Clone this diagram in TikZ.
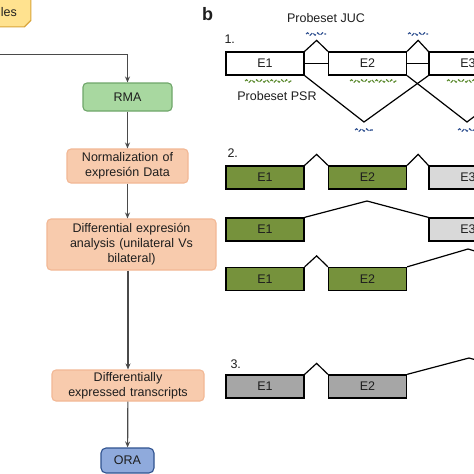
\documentclass[tikz,border=0pt]{standalone}
\usepackage{fontspec}
\setmainfont{Liberation Sans}
\usetikzlibrary{arrows.meta,calc,positioning,shapes.misc,decorations.pathmorphing}
\definecolor{txt}{HTML}{1E1E1E}
\definecolor{conn}{HTML}{4A4A4A}
\definecolor{notefill}{HTML}{FFE28F}
\definecolor{noteline}{HTML}{D9A53A}
\definecolor{rmafill}{HTML}{A8D8A0}
\definecolor{rmaline}{HTML}{6FA66A}
\definecolor{peachfill}{HTML}{F8CBAD}
\definecolor{peachline}{HTML}{F2B895}
\definecolor{orafill}{HTML}{8FAADC}
\definecolor{oraline}{HTML}{2F528F}
\definecolor{exgreen}{HTML}{76923C}
\definecolor{exlight}{HTML}{D9D9D9}
\definecolor{exdark}{HTML}{A6A6A6}
\definecolor{jucblue}{HTML}{2E4F8F}
\definecolor{psrgreen}{HTML}{5B8A2E}

\begin{document}
\begin{tikzpicture}[x=1pt, y=-1pt, >={Stealth[length=6pt,width=5pt]},
		font=\fontsize{12.5}{15}\selectfont, every node/.append style={text=txt},
		notebox/.style={chamfered rectangle, chamfered rectangle corners=south east,
			chamfered rectangle xsep=3pt, fill=notefill, draw=noteline, line width=1.1pt},
		flowbox/.style={draw, rounded corners=4pt, line width=1.1pt, inner sep=0pt, align=center},
		peach/.style={flowbox, fill=peachfill, draw=peachline},
		flow/.style={->, draw=conn, line width=1.2pt},
		exon/.style={draw=black, line width=1.3pt, minimum width=78pt, minimum height=23pt, inner sep=0pt},
		intron/.style={draw=black, line width=1.2pt},
		juc/.style={draw=jucblue, line width=1.1pt, decorate,
			decoration={snake, amplitude=1.2pt, segment length=5pt}, dash pattern=on 3.5pt off 1.5pt},
		psr/.style={juc, draw=psrgreen}]
		\useasboundingbox (0,0) rectangle (474,474);
		\fill[white] (0,0) rectangle (474,474);
		\clip (0,0) rectangle (474,474);
		% panel a: workflow
		\node[notebox, anchor=south east, text width=50pt, align=right, minimum height=30pt, inner xsep=11pt] (cel) at (28,24) {les};
		\coordinate (src) at (-5,54.5);
		\node[flowbox, fill=rmafill, draw=rmaline, text width=89pt, minimum height=28pt] (rma) at (127.5,97) {RMA};
		\node[peach, text width=121pt, minimum height=34pt] (norm) at (127.5,166) {Normalization of\\expresión Data};
		\node[peach, text width=169pt, minimum height=51pt] (diff) at (131.5,244.5) {Differential expresión\\analysis (unilateral Vs\\bilateral)};
		\node[peach, text width=152pt, minimum height=31pt] (det) at (128,385.5) {Differentially\\expressed transcripts};
		\node[flowbox, fill=orafill, draw=oraline, rounded corners=5pt, text width=53pt, minimum height=25pt] (ora) at (127.5,460.5) {ORA};
		\draw[flow] (src) -| (rma.north);
		\draw[flow] (rma) -- (norm);
		\draw[flow] (norm) -- (norm |- diff.north);
		\draw[flow] (diff.south -| det.north) -- (det);
		\draw[flow] (det) -- (ora);
		% panel b: exon structures
		\def\ca{265}\def\cb{367.5}\def\cc{468}
		\node[font=\fontsize{18}{20}\selectfont\bfseries] (panb) at (207.5,14.5) {b};
		\node (juclab) at (326,18.5) {Probeset JUC};
		\node (psrlab) at (277,96) {Probeset PSR};
		\node[anchor=west] (n1) at (221,39) {1.};
		\node[anchor=west] (n2) at (224,153) {2.};
		\node[anchor=west] (n3) at (227,364) {3.};
		% 1. full structure with probesets
		\node[exon, fill=white] (ae1) at (\ca,63.5) {E1};
		\node[exon, fill=white] (ae2) at (\cb,63.5) {E2};
		\node[exon, fill=white] (ae3) at (\cc,63.5) {E3};
		\coordinate (av1) at (364,122);
		\coordinate (av2) at (467,122);
		\coordinate (ae4) at (529,75);
		\draw[intron] (ae1.east) -- (ae2.west) (ae2.east) -- (ae3.west);
		\draw[intron] (ae1.north east) -- ++(12,-11) -- (ae2.north west);
		\draw[intron] (ae2.north east) -- ++(11,-11) -- (ae3.north west);
		\draw[intron] (ae1.south east) -- (av1) -- (ae3.south west);
		\draw[intron] (ae2.south east) -- (av2) -- (ae4);
		\foreach \x in {306,408} \draw[juc] (\x,34) -- ++(20,0);
		\foreach \x in {355,458} \draw[juc] (\x,130) -- ++(18,0);
		\foreach \x in {245,350,447} \draw[psr] (\x,81) -- ++(47,0);
		% 2. splice variants
		\node[exon, fill=exgreen] (be1) at (\ca,177.5) {E1};
		\node[exon, fill=exgreen] (be2) at (\cb,177.5) {E2};
		\node[exon, fill=exlight] (be3) at (\cc,177.5) {E3};
		\draw[intron] (be1.north east) -- ++(12,-11) -- (be2.north west);
		\draw[intron] (be2.north east) -- ++(11,-11) -- (be3.north west);
		\node[exon, fill=exgreen] (ce1) at (\ca,229.5) {E1};
		\node[exon, fill=exlight] (ce3) at (\cc,229.5) {E3};
		\coordinate (cp) at (367,201);
		\draw[intron] (ce1.north east) -- (cp) -- (ce3.north west);
		\node[exon, fill=exgreen] (de1) at (\ca,279) {E1};
		\node[exon, fill=exgreen] (de2) at (\cb,279) {E2};
		\coordinate (dp) at (468,249);
		\coordinate (de4) at (529,267);
		\draw[intron] (de1.north east) -- ++(12,-11) -- (de2.north west);
		\draw[intron] (de2.north east) -- (dp) -- (de4);
		% 3.
		\node[exon, fill=exdark] (ee1) at (\ca,386.5) {E1};
		\node[exon, fill=exdark] (ee2) at (\cb,386.5) {E2};
		\coordinate (ep) at (469,358);
		\coordinate (ee4) at (530,375);
		\draw[intron] (ee1.north east) -- ++(12,-11) -- (ee2.north west);
		\draw[intron] (ee2.north east) -- (ep) -- (ee4);
	\end{tikzpicture}
\end{document}
